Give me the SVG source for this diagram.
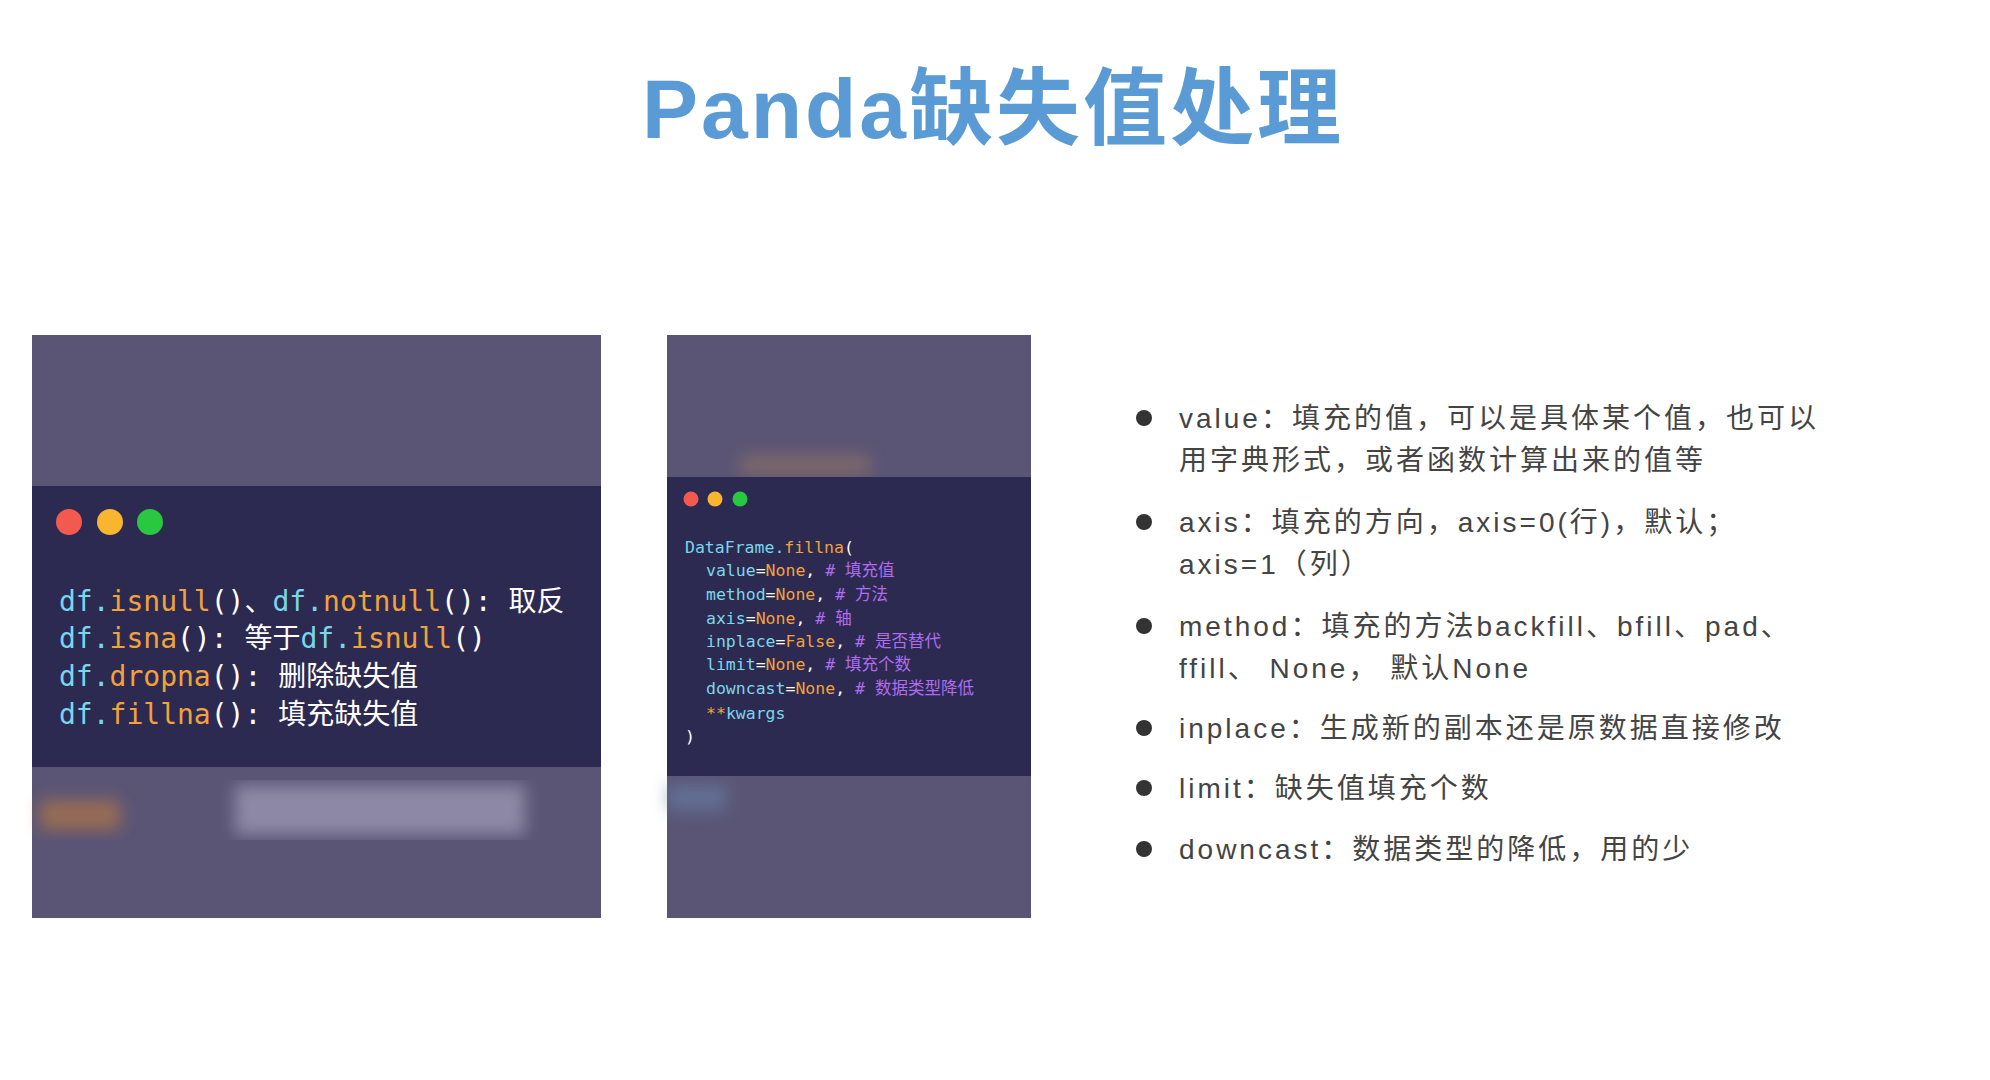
<svg xmlns="http://www.w3.org/2000/svg" width="1990" height="1080" viewBox="0 0 1990 1080">
<style>
.bg{fill:#5a5575}.dk{fill:#2d2a52}
.c1{font-family:"DejaVu Sans Mono","Noto Sans CJK SC",monospace;font-size:28px;fill:#ffffff}
.c2{font-family:"DejaVu Sans Mono","Noto Sans CJK SC",monospace;font-size:16.5px;fill:#ffffff}
.cy{fill:#7ad6ea}.or{fill:#f2a23a}.pu{fill:#b06cf0}.wh{fill:#ffffff}
.b{font-family:"Liberation Sans","Noto Sans CJK SC",sans-serif;font-size:28px;fill:#444;letter-spacing:3px}
</style>
<defs><filter id="bl"><feGaussianBlur stdDeviation="8"/></filter></defs>
<text x="993" y="138" text-anchor="middle" font-family="Liberation Sans,'Noto Sans CJK SC',sans-serif" font-weight="bold" font-size="84" fill="#5b9bd5" letter-spacing="3">Panda缺失值处理</text>
<g id="panel1">
<rect class="bg" x="32" y="335" width="569" height="583"/>
<g filter="url(#bl)" opacity="0.6"><rect x="40" y="800" width="80" height="30" fill="#c07a40"/><rect x="235" y="785" width="290" height="50" fill="#b0aac8"/></g>
<rect class="dk" x="32" y="486" width="569" height="281"/>
<circle cx="69" cy="522" r="13" fill="#f25a50"/><circle cx="110" cy="522" r="13" fill="#f7b530"/><circle cx="150" cy="522" r="13" fill="#2ac840"/>
<text class="c1" x="59" y="611"><tspan class="cy">df.</tspan><tspan class="or">isnull</tspan>()、<tspan class="cy">df.</tspan><tspan class="or">notnull</tspan>(): 取反</text>
<text class="c1" x="59" y="648"><tspan class="cy">df.</tspan><tspan class="or">isna</tspan>(): 等于<tspan class="cy">df.</tspan><tspan class="or">isnull</tspan>()</text>
<text class="c1" x="59" y="686"><tspan class="cy">df.</tspan><tspan class="or">dropna</tspan>(): 删除缺失值</text>
<text class="c1" x="59" y="724"><tspan class="cy">df.</tspan><tspan class="or">fillna</tspan>(): 填充缺失值</text>
</g>
<g id="panel2">
<rect class="bg" x="667" y="335" width="364" height="583"/>
<g filter="url(#bl)" opacity="0.5"><rect x="740" y="455" width="130" height="20" fill="#a07a60"/><rect x="667" y="785" width="60" height="25" fill="#6a8ab0"/></g>
<rect class="dk" x="667" y="477" width="364" height="299"/>
<circle cx="691" cy="499" r="7.5" fill="#f25a50"/><circle cx="715" cy="499" r="7.5" fill="#f7b530"/><circle cx="740" cy="499" r="7.5" fill="#2ac840"/>
<text class="c2" x="685" y="553"><tspan class="cy">DataFrame.</tspan><tspan class="or">fillna</tspan>(</text>
<text class="c2" x="706" y="576"><tspan class="cy">value</tspan>=<tspan class="or">None</tspan>, <tspan class="pu"># 填充值</tspan></text>
<text class="c2" x="706" y="600"><tspan class="cy">method</tspan>=<tspan class="or">None</tspan>,  <tspan class="pu"># 方法</tspan></text>
<text class="c2" x="706" y="624"><tspan class="cy">axis</tspan>=<tspan class="or">None</tspan>,  <tspan class="pu"># 轴</tspan></text>
<text class="c2" x="706" y="647"><tspan class="cy">inplace</tspan>=<tspan class="or">False</tspan>,  <tspan class="pu"># 是否替代</tspan></text>
<text class="c2" x="706" y="670"><tspan class="cy">limit</tspan>=<tspan class="or">None</tspan>,  <tspan class="pu"># 填充个数</tspan></text>
<text class="c2" x="706" y="694"><tspan class="cy">downcast</tspan>=<tspan class="or">None</tspan>,  <tspan class="pu"># 数据类型降低</tspan></text>
<text class="c2" x="706" y="719"><tspan class="or">**</tspan><tspan class="cy">kwargs</tspan></text>
<text class="c2" x="685" y="742">)</text>
</g>
<g id="bullets" fill="#333">
<circle cx="1144" cy="418" r="8"/><circle cx="1144" cy="522" r="8"/><circle cx="1144" cy="626" r="8"/><circle cx="1144" cy="728" r="8"/><circle cx="1144" cy="788" r="8"/><circle cx="1144" cy="849" r="8"/>
<text class="b" x="1179" y="428">value：填充的值，可以是具体某个值，也可以</text>
<text class="b" x="1179" y="470">用字典形式，或者函数计算出来的值等</text>
<text class="b" x="1179" y="532">axis：填充的方向，axis=0(行)，默认；</text>
<text class="b" x="1179" y="574">axis=1（列）</text>
<text class="b" x="1179" y="636">method：填充的方法backfill、bfill、pad、</text>
<text class="b" x="1179" y="678">ffill、 None， 默认None</text>
<text class="b" x="1179" y="738">inplace：生成新的副本还是原数据直接修改</text>
<text class="b" x="1179" y="798">limit：缺失值填充个数</text>
<text class="b" x="1179" y="859">downcast：数据类型的降低，用的少</text>
</g>
</svg>
